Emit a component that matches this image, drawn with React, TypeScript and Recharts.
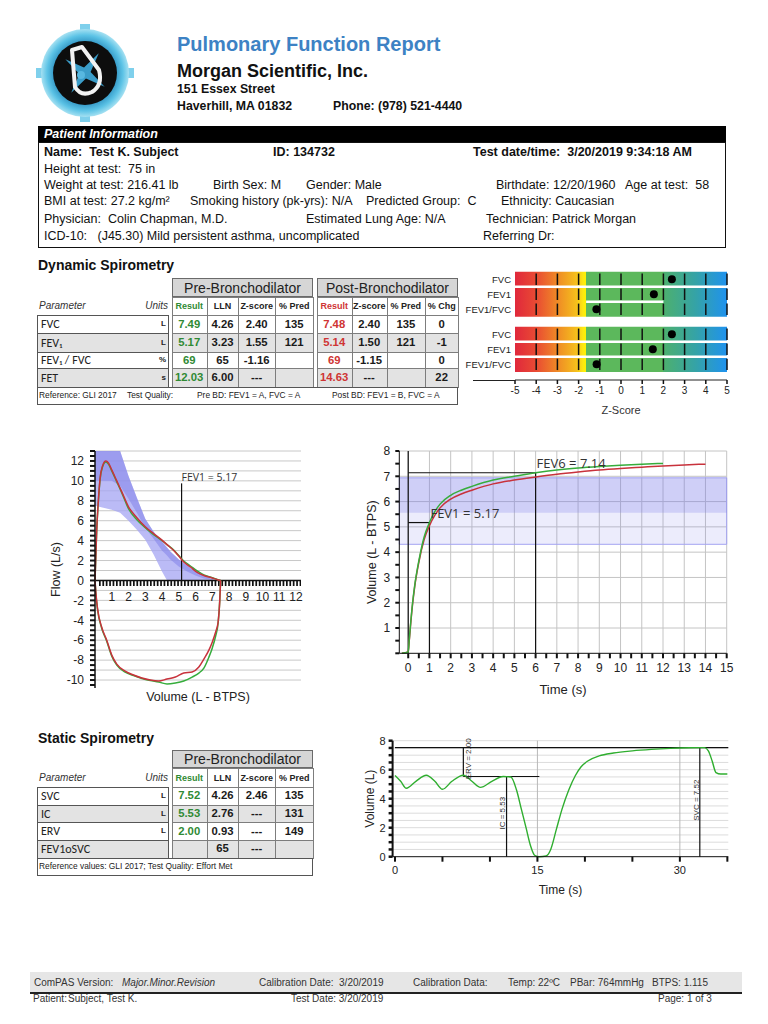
import React from 'react';
import {
  ComposedChart,
  Line,
  Area,
  Scatter,
  XAxis,
  YAxis,
  CartesianGrid,
  ReferenceLine,
  ReferenceArea,
  ReferenceDot,
} from 'recharts';

const SANS = "'Liberation Sans', Arial, sans-serif";
const CALIBRI = "Carlito, 'Noto Sans', 'Open Sans', sans-serif";
const NOTE = "'Open Sans', 'Noto Sans', sans-serif";

const PRE_GREEN = '#2f8a34';
const POST_RED = '#cf3434';
const LINE_RED = '#c8323c';
const LINE_GREEN = '#36ad3c';

// ---- dynamic spirometry table ----
const dynParams = ['FVC', 'FEV₁', 'FEV₁ / FVC', 'FET'];
const dynUnits = ['L', 'L', '%', 's'];
const preResult = ['7.49', '5.17', '69', '12.03'];
const preLLN = ['4.26', '3.23', '65', '6.00'];
const preZ = ['2.40', '1.55', '-1.16', '---'];
const prePred = ['135', '121', '', ''];
const postResult = ['7.48', '5.14', '69', '14.63'];
const postZ = ['2.40', '1.50', '-1.15', '---'];
const postPred = ['135', '121', '', ''];
const postChg = ['0', '-1', '0', '22'];

// ---- static spirometry table ----
const staticParams = ['SVC', 'IC', 'ERV', 'FEV1oSVC'];
const staticUnits = ['L', 'L', 'L', ''];
const staticResult = ['7.52', '5.53', '2.00', ''];
const staticLLN = ['4.26', '2.76', '0.93', '65'];
const staticZ = ['2.46', '---', '---', '---'];
const staticPred = ['135', '131', '149', ''];

// ---- z-score strip ----
const zLabels = ['FVC', 'FEV1', 'FEV1/FVC'];
const zPre = [2.4, 1.55, -1.16];
const zPost = [2.4, 1.5, -1.15];
const zTicks = [-5, -4, -3, -2, -1, 0, 1, 2, 3, 4, 5];
const zDashes = [-4, -3, -2, -1, 0, 1, 2, 3, 4, 5];
const zLLN = -1.645;
const zULN = 2;

// ---- flow-volume loop ----
const fvExpVol = [0, 0.05, 0.1, 0.2, 0.3, 0.45, 0.65, 0.8, 1.0, 1.3, 1.6, 2.0, 2.5, 3.0, 3.5, 4.0, 4.3, 4.7, 5.0, 5.3, 5.7, 6.1, 6.5, 7.0, 7.3, 7.5];
const fvExpPre = [0, 2.5, 5, 8, 10.2, 11.5, 12, 11.8, 11.1, 10.0, 8.9, 7.4, 6.3, 5.4, 4.7, 4.05, 3.6, 3.0, 2.45, 1.85, 1.35, 0.82, 0.5, 0.25, 0.08, 0];
const fvExpPost = [0, 2.4, 4.9, 7.9, 10.1, 11.4, 11.9, 11.7, 11.0, 9.9, 8.8, 7.2, 6.1, 5.3, 4.6, 4.0, 3.6, 3.05, 2.5, 1.95, 1.45, 0.95, 0.55, 0.28, 0.1, 0];
const fvInsVol = [0, 0.05, 0.15, 0.4, 0.7, 1.0, 1.3, 1.8, 2.3, 2.8, 3.3, 3.8, 4.3, 4.8, 5.3, 5.8, 6.2, 6.5, 6.8, 7.0, 7.2, 7.35, 7.45, 7.5];
const fvInsPre = [0, -1.2, -2.8, -4.7, -6.0, -7.5, -8.4, -9.1, -9.5, -9.8, -10.0, -10.1, -9.9, -9.7, -9.3, -9.2, -8.7, -7.9, -7.0, -6.2, -5.2, -4.2, -2.0, 0];
const fvInsPost = [0, -1.3, -2.9, -4.8, -6.1, -7.6, -8.5, -9.2, -9.55, -9.85, -10.05, -10.2, -10.4, -10.3, -10.1, -9.7, -9.3, -8.8, -7.7, -6.8, -5.6, -4.3, -2.0, 0];
const fvBandVol = [0, 0.5, 1.0, 1.5, 2.0, 2.5, 3.0, 3.5, 4.0, 4.3, 4.5, 5.0, 5.5, 6.0, 6.5, 7.0, 7.3];
const fvBandLow = [7.5, 7.3, 7.1, 6.8, 6.0, 5.1, 4.1, 2.6, 0.9, 0, 0, 0, 0, 0, 0, 0, 0];
const fvBandMid = [10, 10, 10, 9.5, 8.2, 6.8, 5.3, 4.2, 3.0, 2.5, 2.1, 1.4, 0.9, 0.5, 0.2, 0.05, 0];
const fvBandHigh = [13, 13, 13, 13, 10.5, 8.3, 6.2, 4.9, 3.9, 3.3, 2.9, 2.1, 1.5, 0.9, 0.45, 0.15, 0];
const fvXLabels = [1, 2, 3, 4, 5, 6, 7, 8, 9, 10, 11, 12];
const fev1Pre = 5.17;

// ---- volume-time ----
const vtTime = [-0.3, 0, 0.05, 0.1, 0.2, 0.3, 0.5, 0.75, 1, 1.25, 1.5, 2, 2.5, 3, 4, 5, 6, 7, 8, 9, 10, 11, 12, 13, 14];
const vtPre = [0, 0.05, 0.5, 1.0, 1.9, 2.6, 3.6, 4.5, 5.05, 5.45, 5.75, 6.1, 6.3, 6.45, 6.7, 6.85, 6.97, 7.08, 7.17, 7.25, 7.31, 7.36, 7.41, 7.45, 7.48];
const vtPost = [0, 0.05, 0.55, 1.05, 1.95, 2.65, 3.65, 4.6, 5.17, 5.6, 5.9, 6.25, 6.45, 6.6, 6.85, 7.0, 7.14, 7.25, 7.33, 7.39, 7.44, 7.48, 7.51, null, null];
const vtLLN = 4.31;
const vtMid = 5.56;
const vtULN = 6.94;
const fev6 = 7.14;

// ---- slow vital capacity ----
const svcTime = [0, 0.6, 1.2, 2.2, 3.3, 4.2, 5.0, 6.0, 7.2, 8.1, 9.0, 10.2, 11.4, 12.2, 12.8, 13.3, 13.8, 14.3, 14.7, 15.2, 15.9, 16.4, 17.0, 17.6, 18.3, 19.0, 19.6, 20.3, 21.5, 23.0, 25.0, 27.0, 29.0, 31.0, 32.6, 33.0, 33.4, 33.8, 34.3, 35.0];
const svcVol = [5.6, 5.2, 4.72, 5.2, 5.62, 5.2, 4.65, 5.2, 5.62, 5.2, 4.78, 5.2, 5.53, 5.5, 4.6, 3.3, 2.0, 0.7, 0.1, 0.0, 0.05, 0.5, 1.9, 3.3, 4.6, 5.6, 6.2, 6.6, 6.95, 7.15, 7.3, 7.4, 7.47, 7.51, 7.52, 7.3, 6.6, 5.8, 5.7, 5.7];
const svc = 7.52;
const ic = 5.53;
const ervStart = 7.2;
const icTime = 11.75;
const svcMarkTime = 32.1;

const steps = (a: number, b: number, s: number) => {
  const out: number[] = [];
  for (let v = a; v <= b + 1e-9; v += s) out.push(Math.round(v * 100) / 100);
  return out;
};

function Txt({ x, cy, w, align = 'left', size = 12, weight = 400, italic = false, color = '#111', font = SANS, children }: any) {
  const lh = Math.round(size * 1.3);
  return (
    <div
      style={{
        position: 'absolute',
        left: x,
        top: cy - lh / 2,
        width: w,
        height: lh,
        lineHeight: `${lh}px`,
        fontSize: size,
        fontWeight: weight,
        fontStyle: italic ? 'italic' : 'normal',
        color,
        fontFamily: font,
        textAlign: align,
        whiteSpace: 'nowrap',
      }}
    >
      {children}
    </div>
  );
}

function Box({ x, y, w, h, bg = 'transparent', border = 'none' }: any) {
  return (
    <div style={{ position: 'absolute', left: x, top: y, width: w, height: h, background: bg, border, boxSizing: 'border-box' }} />
  );
}

function Logo() {
  return (
    <svg width={100} height={100} style={{ position: 'absolute', left: 35, top: 23 }}>
      <defs>
        <radialGradient id="ringGrad" cx="50%" cy="50%" r="50%">
          <stop offset="66%" stopColor="#2a8cbd" />
          <stop offset="86%" stopColor="#5cc3e6" />
          <stop offset="100%" stopColor="#a6e1f2" />
        </radialGradient>
      </defs>
      {[0, 90, 180, 270].map((a) => (
        <rect key={a} x={45} y={1} width={10} height={9} fill="#7fd0ec" transform={`rotate(${a} 50 50)`} />
      ))}
      <circle cx={50} cy={50} r={44} fill="url(#ringGrad)" />
      <circle cx={50} cy={50} r={32} fill="#0d0d0d" />
      <polygon points="50,26 54,46 74,50 54,54 50,74 46,54 26,50 46,46" fill="#3b9dc9" transform="rotate(35 50 50)" />
      <path d="M37 27 L47 24 L64 47 Q68 62 57 69 Q46 74 40 64 Z" fill="none" stroke="#f2f2f2" strokeWidth={4} strokeLinejoin="round" />
      <circle cx={46} cy={52} r={4} fill="#58b8e0" />
    </svg>
  );
}

function PatientInfo() {
  const s = 12.5;
  return (
    <>
      <Box x={38} y={126} w={688} h={17} bg="#000" />
      <Txt x={44} cy={134} size={12.5} weight={700} italic color="#fff">Patient Information</Txt>
      <Box x={38} y={142} w={688} h={106} border="1px solid #111" />
      <Txt x={44} cy={152} size={s} weight={700}>Name:&nbsp; Test K. Subject</Txt>
      <Txt x={273} cy={152} size={s} weight={700}>ID: 134732</Txt>
      <Txt x={473} cy={152} size={s} weight={700}>Test date/time:&nbsp; 3/20/2019 9:34:18 AM</Txt>
      <Txt x={44} cy={168.7} size={s}>Height at test:&nbsp; 75 in</Txt>
      <Txt x={44} cy={184.7} size={s}>Weight at test: 216.41 lb</Txt>
      <Txt x={213} cy={184.7} size={s}>Birth Sex: M</Txt>
      <Txt x={306} cy={184.7} size={s}>Gender: Male</Txt>
      <Txt x={496} cy={184.7} size={s}>Birthdate: 12/20/1960</Txt>
      <Txt x={625} cy={184.7} size={s}>Age at test:&nbsp; 58</Txt>
      <Txt x={44} cy={201.3} size={s}>BMI at test: 27.2 kg/m²</Txt>
      <Txt x={190} cy={201.3} size={s}>Smoking history (pk-yrs): N/A</Txt>
      <Txt x={366} cy={201.3} size={s}>Predicted Group:&nbsp; C</Txt>
      <Txt x={501} cy={201.3} size={s}>Ethnicity: Caucasian</Txt>
      <Txt x={44} cy={218.7} size={s}>Physician:&nbsp; Colin Chapman, M.D.</Txt>
      <Txt x={306} cy={218.7} size={s}>Estimated Lung Age: N/A</Txt>
      <Txt x={486} cy={218.7} size={s}>Technician: Patrick Morgan</Txt>
      <Txt x={44} cy={236} size={s}>ICD-10:&nbsp;&nbsp; (J45.30) Mild persistent asthma, uncomplicated</Txt>
      <Txt x={483} cy={236} size={s}>Referring Dr:</Txt>
    </>
  );
}

function SpiroTable({ h1Top, rowY, params, units, blocks, refTexts, refRight }: any) {
  const h2Top = h1Top + 18.4;
  const dataTop = rowY[0];
  const last = rowY[rowY.length - 1];
  const border = '1px solid #7d7d7d';
  return (
    <>
      <Txt x={39} cy={(h2Top + dataTop) / 2} size={10} italic color="#333">Parameter</Txt>
      <Txt x={100} w={68} align="right" cy={(h2Top + dataTop) / 2} size={10} italic color="#333">Units</Txt>
      {params.map((p: string, i: number) => {
        const bg = i % 2 ? '#e3e3e3' : '#fff';
        const top = rowY[i];
        const h = rowY[i + 1] - top;
        return (
          <React.Fragment key={p}>
            <Box x={36.7} y={top} w={132.6} h={h + 1} bg={bg} border="1px solid #555" />
            <Txt x={41} cy={top + h / 2} size={12} font={CALIBRI} color="#222">{p}</Txt>
            <Txt x={120} w={46} align="right" cy={top + h / 2} size={8} weight={700} color="#222">{units[i]}</Txt>
          </React.Fragment>
        );
      })}
      {blocks.map((b: any) => {
        const left = b.cols[0];
        const right = b.cols[b.cols.length - 1];
        return (
          <React.Fragment key={b.title}>
            <Box x={left} y={h1Top} w={right - left} h={18.4} bg="#d6d6d6" border="1.5px solid #6a6a6a" />
            <Txt x={left} w={right - left} align="center" cy={h1Top + 9.4} size={14} color="#222">{b.title}</Txt>
            {b.heads.map((hd: string, c: number) => {
              const x = b.cols[c];
              const w = b.cols[c + 1] - x;
              return (
                <React.Fragment key={hd}>
                  <Box x={x} y={h2Top} w={w + 1} h={dataTop - h2Top + 1} bg="#fff" border={border} />
                  <Txt x={x} w={w} align="center" cy={(h2Top + dataTop) / 2} size={9} weight={700} color={c === 0 ? b.resultColor : '#222'}>{hd}</Txt>
                  {b.vals[c].map((v: string, i: number) => {
                    const top = rowY[i];
                    const h = rowY[i + 1] - top;
                    return (
                      <React.Fragment key={i}>
                        <Box x={x} y={top} w={w + 1} h={h + 1} bg={i % 2 ? '#e3e3e3' : '#fff'} border={border} />
                        <Txt x={x} w={w} align="center" cy={top + h / 2} size={11.3} weight={700} color={c === 0 ? b.resultColor : '#1a1a1a'}>{v}</Txt>
                      </React.Fragment>
                    );
                  })}
                </React.Fragment>
              );
            })}
          </React.Fragment>
        );
      })}
      <Box x={36.7} y={last} w={refRight - 36.7} h={18.3} bg="#fff" border="1px solid #555" />
      {refTexts.map((t: any) => (
        <Txt key={t.text} x={t.x} cy={last + 9} size={8.4} color="#222">{t.text}</Txt>
      ))}
    </>
  );
}

function DynamicTable() {
  return (
    <SpiroTable
      h1Top={278.3}
      rowY={[315, 333.3, 351.7, 368.3, 386.7]}
      params={dynParams}
      units={dynUnits}
      refRight={458.3}
      blocks={[
        { title: 'Pre-Bronchodilator', cols: [171.7, 206.7, 238.3, 275, 313.3], heads: ['Result', 'LLN', 'Z-score', '% Pred'], vals: [preResult, preLLN, preZ, prePred], resultColor: PRE_GREEN },
        { title: 'Post-Bronchodilator', cols: [316.7, 351.7, 386.7, 425, 458.3], heads: ['Result', 'Z-score', '% Pred', '% Chg'], vals: [postResult, postZ, postPred, postChg], resultColor: POST_RED },
      ]}
      refTexts={[
        { x: 39, text: 'Reference: GLI 2017' },
        { x: 127, text: 'Test Quality:' },
        { x: 197, text: 'Pre BD: FEV1 = A, FVC = A' },
        { x: 332, text: 'Post BD: FEV1 = B, FVC = A' },
      ]}
    />
  );
}

function StaticTable() {
  return (
    <SpiroTable
      h1Top={750}
      rowY={[786.7, 805, 822.3, 840, 857.7]}
      params={staticParams}
      units={staticUnits}
      refRight={313.3}
      blocks={[
        { title: 'Pre-Bronchodilator', cols: [171.7, 206.7, 238.3, 275, 313.3], heads: ['Result', 'LLN', 'Z-score', '% Pred'], vals: [staticResult, staticLLN, staticZ, staticPred], resultColor: PRE_GREEN },
      ]}
      refTexts={[{ x: 39, text: 'Reference values: GLI 2017; Test Quality: Effort Met' }]}
    />
  );
}

function ZScoreStrip() {
  const rowTops = [0, 1, 2, 3.66, 4.66, 5.66];
  const groups = [[0, 3], [3.66, 6.66]];
  const preDots = zPre.map((z, i) => ({ z, row: rowTops[i] + 0.5 }));
  const postDots = zPost.map((z, i) => ({ z, row: rowTops[i + 3] + 0.5 }));
  const labelTicks = rowTops.map((t) => t + 0.5);
  const dot = (p: any) => <circle cx={p.cx} cy={p.cy} r={4} fill="#000" />;
  const gl = ((zLLN + 5) / 10) * 100;
  const gu = ((zULN + 5) / 10) * 100;
  return (
    <ComposedChart width={280} height={150} margin={{ top: 6.7, right: 13, bottom: 0, left: 0 }}>
      <defs>
        <linearGradient id="zband" x1="0" y1="0" x2="1" y2="0">
          <stop offset="0%" stopColor="#e0283c" />
          <stop offset="10%" stopColor="#e94b33" />
          <stop offset="20%" stopColor="#ef8a26" />
          <stop offset="29%" stopColor="#f5c01c" />
          <stop offset={`${gl - 1.5}%`} stopColor="#fde812" />
          <stop offset={`${gl}%`} stopColor="#fff200" />
          <stop offset={`${gl}%`} stopColor="#5cb85c" />
          <stop offset={`${gu}%`} stopColor="#5cb85c" />
          <stop offset={`${gu}%`} stopColor="#4db06e" />
          <stop offset="85%" stopColor="#35a3a6" />
          <stop offset="100%" stopColor="#1f92ee" />
        </linearGradient>
      </defs>
      <XAxis
        type="number"
        dataKey="z"
        domain={[-5, 5]}
        ticks={zTicks}
        interval={0}
        height={35}
        tickSize={4}
        tickMargin={3}
        axisLine={{ stroke: '#222' }}
        tickLine={{ stroke: '#111', strokeWidth: 1.5 }}
        tick={{ fontSize: 10, fill: '#222', fontFamily: SANS }}
        label={{ value: 'Z-Score', position: 'insideBottom', offset: 1, fontSize: 11, fill: '#333', fontFamily: SANS }}
      />
      <YAxis
        type="number"
        dataKey="row"
        domain={[0, 7.2]}
        reversed
        ticks={labelTicks}
        interval={0}
        tickFormatter={(v: any, i: number) => zLabels[i % 3]}
        width={55}
        axisLine={false}
        tickLine={false}
        tickSize={0}
        tickMargin={4}
        tick={{ fontSize: 9.5, fill: '#222', fontFamily: SANS }}
      />
      {groups.map(([a, b]) => (
        <ReferenceArea key={a} x1={-5} x2={5} y1={a} y2={b} fill="url(#zband)" fillOpacity={1} stroke="none" />
      ))}
      {rowTops.map((t) =>
        zDashes.map((z) => (
          <ReferenceLine key={`${t}-${z}`} segment={[{ x: z, y: t + 0.12 }, { x: z, y: t + 0.88 }]} stroke="#111" strokeWidth={1.5} />
        )),
      )}
      <ReferenceLine segment={[{ x: -5, y: 1 }, { x: 5, y: 1 }]} stroke="#fff" strokeWidth={2.5} />
      <ReferenceLine segment={[{ x: zLLN, y: 2 }, { x: zULN, y: 2 }]} stroke="#fff" strokeWidth={2.5} />
      <ReferenceLine segment={[{ x: -5, y: 4.66 }, { x: 5, y: 4.66 }]} stroke="#fff" strokeWidth={2.5} />
      <ReferenceLine segment={[{ x: -5, y: 5.66 }, { x: 5, y: 5.66 }]} stroke="#fff" strokeWidth={2.5} />
      <Scatter data={preDots} shape={dot} isAnimationActive={false} />
      <Scatter data={postDots} shape={dot} isAnimationActive={false} />
    </ComposedChart>
  );
}

const Comb = (p: any) => (
  <g>
    <line x1={p.x1} y1={p.y1} x2={p.x2} y2={p.y2} stroke="#111" strokeWidth={1.5} />
    <line x1={p.x1 + 4} y1={p.y1 + 3} x2={p.x2} y2={p.y2 + 3} stroke="#111" strokeWidth={5} strokeDasharray="1.7 1.7" />
  </g>
);

const VolLabel = (p: any) => (
  <text x={p.cx} y={p.cy + 21} textAnchor="middle" fontSize={12} fill="#222" fontFamily={SANS}>
    {p.payload.v}
  </text>
);

function FlowVolumeChart() {
  const band = fvBandVol.map((v, i) => ({ v, range: [fvBandLow[i], fvBandHigh[i]], core: [fvBandMid[i], fvBandHigh[i]] }));
  const expPre = fvExpVol.map((v, i) => ({ v, f: fvExpPre[i] }));
  const expPost = fvExpVol.map((v, i) => ({ v, f: fvExpPost[i] }));
  const insPre = fvInsVol.map((v, i) => ({ v, f: fvInsPre[i] }));
  const insPost = fvInsVol.map((v, i) => ({ v, f: fvInsPost[i] }));
  const xLabels = fvXLabels.map((v) => ({ v, f: 0 }));
  return (
    <ComposedChart width={270} height={270} data={band} margin={{ top: 11, right: 9, bottom: 0, left: 0 }}>
      <CartesianGrid stroke="#c8c8c8" verticalValues={steps(0.5, 12, 0.5)} horizontalValues={steps(-10, 13, 1)} />
      <XAxis
        type="number"
        dataKey="v"
        domain={[0, 12.3]}
        tick={false}
        tickLine={false}
        axisLine={false}
        height={22}
        label={{ value: 'Volume (L - BTPS)', position: 'insideBottom', offset: 9, fontSize: 12.5, fill: '#222', fontFamily: SANS }}
      />
      <YAxis
        type="number"
        dataKey="f"
        domain={[-10.8, 13]}
        allowDataOverflow
        ticks={steps(-10.5, 13, 0.5)}
        interval={0}
        tickFormatter={(v: number) => (Number.isInteger(v) && v % 2 === 0 ? String(v) : '')}
        width={55}
        tickSize={5}
        tickMargin={6}
        axisLine={{ stroke: '#111', strokeWidth: 1.5 }}
        tickLine={{ stroke: '#111', strokeWidth: 2 }}
        tick={{ fontSize: 12, fill: '#222', fontFamily: SANS }}
        label={{ value: 'Flow (L/s)', angle: -90, position: 'insideLeft', offset: 16, fontSize: 12.5, fill: '#222', fontFamily: SANS, style: { textAnchor: 'middle' } }}
      />
      <Area dataKey="range" type="linear" stroke="none" fill="#a4a4f3" fillOpacity={0.75} isAnimationActive={false} />
      <Area dataKey="core" type="linear" stroke="none" fill="#7e7ee8" fillOpacity={0.5} isAnimationActive={false} />
      <ReferenceLine y={0} stroke="#111" shape={Comb} />
      <Scatter data={xLabels} shape={VolLabel} isAnimationActive={false} />
      <ReferenceLine segment={[{ x: fev1Pre, y: 0 }, { x: fev1Pre, y: 9.75 }]} stroke="#111" strokeWidth={1.2} />
      <ReferenceDot x={fev1Pre} y={10.35} r={0} fill="none" stroke="none" label={{ value: 'FEV1 = 5.17', position: 'right', offset: 0, fontSize: 10.5, fill: '#333', fontFamily: NOTE }} />
      <Line data={expPost} dataKey="f" type="monotone" stroke={LINE_GREEN} strokeWidth={1.5} dot={false} isAnimationActive={false} />
      <Line data={insPost} dataKey="f" type="monotone" stroke={LINE_GREEN} strokeWidth={1.5} dot={false} isAnimationActive={false} />
      <Line data={expPre} dataKey="f" type="monotone" stroke={LINE_RED} strokeWidth={1.5} dot={false} isAnimationActive={false} />
      <Line data={insPre} dataKey="f" type="monotone" stroke={LINE_RED} strokeWidth={1.5} dot={false} isAnimationActive={false} />
    </ComposedChart>
  );
}

function VolumeTimeChart() {
  const data = vtTime.map((t, i) => ({ t, pre: vtPre[i], post: vtPost[i] }));
  return (
    <ComposedChart width={400} height={270} data={data} margin={{ top: 11, right: 33.3, bottom: 0, left: 0 }}>
      <ReferenceArea y1={vtLLN} y2={vtULN} fill="#7b7be8" fillOpacity={0.14} stroke="#a4a4f2" strokeWidth={1} />
      <ReferenceArea y1={vtMid} y2={vtULN} fill="#7b7be8" fillOpacity={0.26} stroke="none" />
      <CartesianGrid stroke="#c4c4c4" verticalValues={steps(0, 15, 1)} horizontalValues={steps(1, 8, 1)} />
      <XAxis
        type="number"
        dataKey="t"
        domain={[-0.42, 15]}
        ticks={steps(0, 15, 0.5)}
        interval={0}
        tickFormatter={(v: number) => (Number.isInteger(v) ? String(v) : '')}
        height={56.7}
        tickSize={5}
        tickMargin={5}
        axisLine={{ stroke: '#111' }}
        tickLine={{ stroke: '#111', strokeWidth: 2 }}
        tick={{ fontSize: 12, fill: '#222', fontFamily: SANS }}
        label={{ value: 'Time (s)', position: 'insideBottom', offset: 16, fontSize: 13, fill: '#222', fontFamily: SANS }}
      />
      <YAxis
        type="number"
        domain={[0, 8]}
        ticks={steps(0, 8, 0.5)}
        interval={0}
        tickFormatter={(v: number) => (Number.isInteger(v) && v > 0 ? String(v) : '')}
        width={39.3}
        tickSize={4}
        tickMargin={5}
        axisLine={{ stroke: '#111' }}
        tickLine={{ stroke: '#111', strokeWidth: 2 }}
        tick={{ fontSize: 12, fill: '#222', fontFamily: SANS }}
        label={{ value: 'Volume (L - BTPS)', angle: -90, position: 'insideLeft', offset: 12, fontSize: 12.5, fill: '#222', fontFamily: SANS, style: { textAnchor: 'middle' } }}
      />
      <ReferenceLine x={0} stroke="#111" strokeWidth={1.2} />
      <ReferenceLine segment={[{ x: 0, y: fev1Pre }, { x: 1, y: fev1Pre }]} stroke="#111" strokeWidth={1.2} />
      <ReferenceLine segment={[{ x: 1, y: 0 }, { x: 1, y: fev1Pre }]} stroke="#111" strokeWidth={1.2} />
      <ReferenceLine segment={[{ x: 0, y: fev6 }, { x: 6, y: fev6 }]} stroke="#111" strokeWidth={1.2} />
      <ReferenceLine segment={[{ x: 6, y: 0 }, { x: 6, y: fev6 }]} stroke="#111" strokeWidth={1.2} />
      <ReferenceDot x={1} y={5.55} r={0} fill="none" stroke="none" label={{ value: 'FEV1 = 5.17', position: 'right', offset: 1, fontSize: 13, fill: '#333', fontFamily: NOTE }} />
      <ReferenceDot x={6} y={7.51} r={0} fill="none" stroke="none" label={{ value: 'FEV6 = 7.14', position: 'right', offset: 1, fontSize: 13, fill: '#333', fontFamily: NOTE }} />
      <Line dataKey="pre" type="monotone" stroke={LINE_RED} strokeWidth={1.5} dot={false} isAnimationActive={false} />
      <Line dataKey="post" type="monotone" stroke={LINE_GREEN} strokeWidth={1.5} dot={false} isAnimationActive={false} />
    </ComposedChart>
  );
}

function SvcChart() {
  const data = svcTime.map((t, i) => ({ t, vol: svcVol[i] }));
  const vlabel = (value: string) => ({ value, angle: -90, position: 'center' as const, fontSize: 8, fill: '#333', fontFamily: SANS });
  return (
    <ComposedChart width={400} height={170} data={data} margin={{ top: 10.7, right: 21.7, bottom: 0, left: 0 }}>
      <CartesianGrid stroke="#dcdcdc" vertical={false} horizontalValues={steps(0.5, 8, 0.5)} />
      <ReferenceLine x={15} stroke="#b8b8b8" />
      <ReferenceLine x={30} stroke="#b8b8b8" />
      <XAxis
        type="number"
        dataKey="t"
        domain={[-0.25, 35.1]}
        ticks={steps(0, 35, 5)}
        interval={0}
        tickFormatter={(v: number) => (v % 15 === 0 ? String(v) : '')}
        height={43.3}
        tickSize={5}
        tickMargin={4}
        axisLine={{ stroke: '#111' }}
        tickLine={{ stroke: '#111', strokeWidth: 2 }}
        tick={{ fontSize: 11, fill: '#222', fontFamily: SANS }}
        label={{ value: 'Time (s)', position: 'insideBottom', offset: 6, fontSize: 12, fill: '#222', fontFamily: SANS }}
      />
      <YAxis
        type="number"
        domain={[0, 8]}
        ticks={steps(0, 8, 0.5)}
        interval={0}
        tickFormatter={(v: number) => (Number.isInteger(v) && v % 2 === 0 ? String(v) : '')}
        width={42.6}
        tickSize={4}
        tickMargin={3}
        axisLine={{ stroke: '#111', strokeWidth: 2 }}
        tickLine={{ stroke: '#111', strokeWidth: 2.5 }}
        tick={{ fontSize: 11, fill: '#222', fontFamily: SANS }}
        label={{ value: 'Volume (L)', angle: -90, position: 'insideLeft', offset: 20, fontSize: 12, fill: '#222', fontFamily: SANS, style: { textAnchor: 'middle' } }}
      />
      <ReferenceLine segment={[{ x: 0, y: svc }, { x: 35.1, y: svc }]} stroke="#111" strokeWidth={1.2} />
      <ReferenceLine segment={[{ x: ervStart, y: ic }, { x: 15.2, y: ic }]} stroke="#111" strokeWidth={1.2} />
      <ReferenceLine segment={[{ x: ervStart, y: ic }, { x: ervStart, y: svc }]} stroke="#111" strokeWidth={1.2} />
      <ReferenceLine segment={[{ x: icTime, y: 0 }, { x: icTime, y: ic }]} stroke="#111" strokeWidth={1.2} />
      <ReferenceLine segment={[{ x: svcMarkTime, y: 0 }, { x: svcMarkTime, y: svc }]} stroke="#111" strokeWidth={1.2} />
      <ReferenceDot x={7.75} y={6.75} r={0} fill="none" stroke="none" label={vlabel('ERV = 2.00')} />
      <ReferenceDot x={11.3} y={3.0} r={0} fill="none" stroke="none" label={vlabel('IC = 5.53')} />
      <ReferenceDot x={31.7} y={3.9} r={0} fill="none" stroke="none" label={vlabel('SVC = 7.52')} />
      <Line dataKey="vol" type="monotone" stroke="#2fae2f" strokeWidth={1.4} dot={false} isAnimationActive={false} />
    </ComposedChart>
  );
}

function Footer() {
  const s = 10;
  return (
    <>
      <Box x={30} y={972} w={712} h={20} bg="#e6e6e6" />
      <Box x={30} y={992} w={712} h={2} bg="#222" />
      <Txt x={34} cy={982} size={s} color="#333">ComPAS Version:</Txt>
      <Txt x={122} cy={982} size={s} italic color="#333">Major.Minor.Revision</Txt>
      <Txt x={259} cy={982} size={s} color="#333">Calibration Date:&nbsp; 3/20/2019</Txt>
      <Txt x={413} cy={982} size={s} color="#333">Calibration Data:</Txt>
      <Txt x={508} cy={982} size={s} color="#333">Temp: 22ºC</Txt>
      <Txt x={570} cy={982} size={s} color="#333">PBar: 764mmHg</Txt>
      <Txt x={652} cy={982} size={s} color="#333">BTPS: 1.115</Txt>
      <Txt x={33} cy={998} size={s} color="#333">Patient:</Txt>
      <Txt x={68} cy={998} size={s} color="#333">Subject, Test K.</Txt>
      <Txt x={291} cy={998} size={s} color="#333">Test Date: 3/20/2019</Txt>
      <Txt x={658} cy={998} size={s} color="#333">Page: 1 of 3</Txt>
    </>
  );
}

export default function App() {
  return (
    <div style={{ position: 'relative', width: 768, height: 1024, background: '#fff', overflow: 'hidden', fontFamily: SANS }}>
      <style>{'body{margin:0;}'}</style>
      <Logo />
      <Txt x={177} cy={44} size={20} weight={700} color="#3d82c4">Pulmonary Function Report</Txt>
      <Txt x={177} cy={71} size={18} weight={700}>Morgan Scientific, Inc.</Txt>
      <Txt x={177} cy={89} size={12.3} weight={700}>151 Essex Street</Txt>
      <Txt x={177} cy={106} size={12.3} weight={700}>Haverhill, MA 01832</Txt>
      <Txt x={333} cy={106} size={12.3} weight={700}>Phone: (978) 521-4440</Txt>
      <PatientInfo />
      <Txt x={38} cy={265} size={14} weight={700}>Dynamic Spirometry</Txt>
      <DynamicTable />
      <div style={{ position: 'absolute', left: 460, top: 265 }}>
        <ZScoreStrip />
      </div>
      <div style={{ position: 'absolute', left: 473, top: 380, width: 42, height: 1, background: '#222' }} />
      <div style={{ position: 'absolute', left: 40, top: 440 }}>
        <FlowVolumeChart />
      </div>
      <div style={{ position: 'absolute', left: 360, top: 440 }}>
        <VolumeTimeChart />
      </div>
      <Txt x={38} cy={738} size={14} weight={700}>Static Spirometry</Txt>
      <StaticTable />
      <div style={{ position: 'absolute', left: 350, top: 730 }}>
        <SvcChart />
      </div>
      <Footer />
    </div>
  );
}
